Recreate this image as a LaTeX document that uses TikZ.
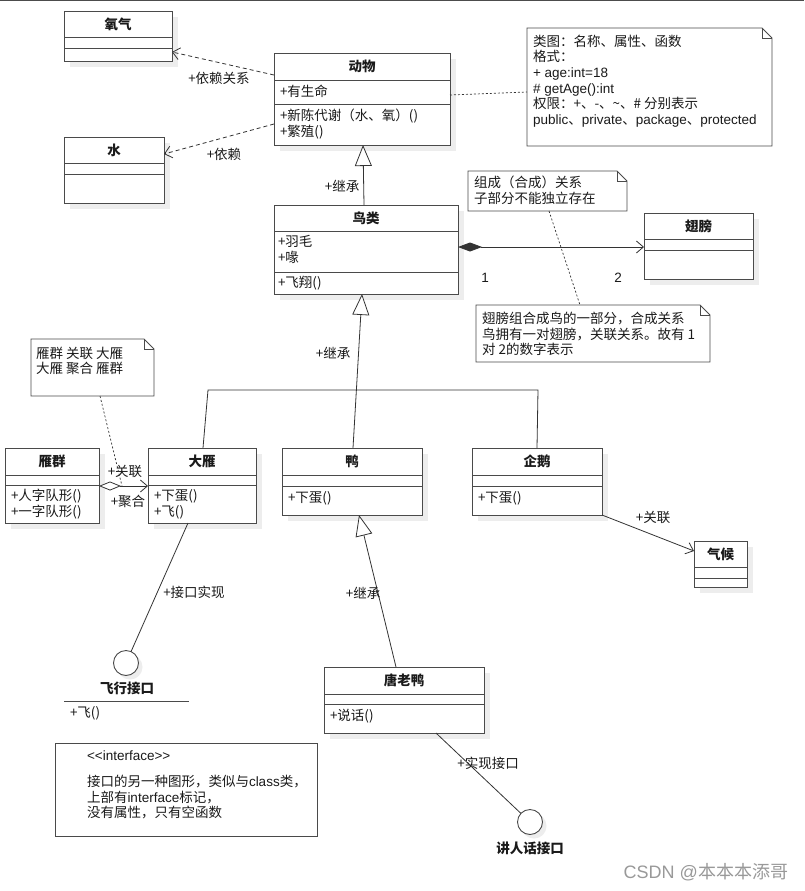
\documentclass[tikz,border=0pt]{standalone}
\usepackage{fontspec}
\setmainfont{Liberation Sans}
\newfontfamily\cjk{Noto Sans CJK SC}
\newfontfamily\latf{Liberation Sans}
\usetikzlibrary{arrows.meta,shadows}
\definecolor{boxc}{HTML}{4A4A4A}
\definecolor{linec}{HTML}{333333}
\definecolor{txtc}{HTML}{1A1A1A}
\definecolor{shadowc}{HTML}{EDEDED}
\tikzset{
  every node/.style={font=\cjk\fontsize{13.5}{16}\selectfont, inner sep=0pt, outer sep=0pt, text=txtc},
  cls/.style={draw=boxc, line width=0.9pt, fill=white, rectangle,
    drop shadow={shadow xshift=6pt, shadow yshift=-6pt, fill=shadowc, opacity=1}},
  boxline/.style={draw=boxc, line width=0.9pt},
  ctitle/.style={font=\cjk\bfseries\fontsize{13.5}{16}\selectfont},
  member/.style={anchor=west, align=left},
  notetxt/.style={anchor=west, align=left, font=\cjk\fontsize{13.5}{15.6}\selectfont},
  notec/.style={draw=boxc, line width=0.9pt},
  conn/.style={draw=linec, line width=0.8pt},
  dep/.style={conn, dash pattern=on 4pt off 3pt, -{Straight Barb[length=7pt,width=12pt]}},
  inh/.style={conn, -{Triangle[open,length=21pt,width=17pt,fill=white]}},
  comp/.style={conn, {Diamond[length=24pt,width=9pt]}-{Straight Barb[length=7pt,width=12pt]}},
  agg/.style={conn, {Diamond[open,length=22pt,width=9pt,fill=white]}-{Straight Barb[length=7pt,width=12pt]}},
  assoc/.style={conn, -{Straight Barb[length=7pt,width=12pt]}},
  notelink/.style={conn, line width=0.7pt, dash pattern=on 2pt off 2pt},
  iface/.style={circle, draw=boxc, line width=0.9pt, fill=white, minimum size=25pt,
    drop shadow={shadow xshift=4pt, shadow yshift=-4pt, fill=shadowc, opacity=1}},
}
\newcommand\umlclass[8]{%
  \node[cls, minimum width={(#4-#2)*1pt}, minimum height={(#5-#3)*1pt}] (#1) at ({(#2+#4)/2},{(#3+#5)/2}) {};
  \draw[boxline] (#1.west |- 0,#6) -- (#1.east |- 0,#6);
  \draw[boxline] (#1.west |- 0,#7) -- (#1.east |- 0,#7);
  \node[ctitle] (#1-t) at ({(#2+#4)/2},{(#3+#6)/2}) {#8};
}
\newcommand\umlnote[5]{%
  \node[minimum width={(#4-#2)*1pt}, minimum height={(#5-#3)*1pt}] (#1) at ({(#2+#4)/2},{(#3+#5)/2}) {};
  \draw[notec, fill=white] (#1.north west) -- ([xshift=-10pt]#1.north east) -- ([yshift=-10pt]#1.north east) -- (#1.south east) -- (#1.south west) -- cycle;
  \draw[notec] ([xshift=-10pt]#1.north east) -- ([xshift=-10pt,yshift=-10pt]#1.north east) -- ([yshift=-10pt]#1.north east);
}
\begin{document}
\begin{tikzpicture}[x=1pt,y=-1pt]
\useasboundingbox (0,0) rectangle (804,891);
\fill[white] (0,0) rectangle (804,891);
\draw[black!70, line width=1.5pt] (0,0.75) -- (804,0.75);

% classes
\umlclass{oxygen}{64}{11}{172}{61}{37}{48}{氧气}
\umlclass{water}{64}{137}{164}{203}{163}{174}{水}
\umlclass{animal}{274}{53}{450}{145}{80}{104}{动物}
\node[member] (animal-a) at (280,91) {+有生命};
\node[member] (animal-m) at (280,124) {+新陈代谢（水、氧）()\\+繁殖()};
\umlclass{bird}{274}{205}{458}{294}{231}{272}{鸟类}
\node[member] (bird-a) at (278,249) {+羽毛\\+喙};
\node[member] (bird-m) at (278,283) {+飞翔()};
\umlclass{wing}{644}{213}{753}{279}{239}{250}{翅膀}
\umlclass{flock}{5}{448}{99}{523}{475}{485}{雁群}
\node[member] (flock-m) at (11,504) {+人字队形()\\+一字队形()};
\umlclass{goose}{148}{448}{256}{523}{475}{485}{大雁}
\node[member] (goose-m) at (154,504) {+下蛋()\\+飞()};
\umlclass{duck}{282}{448}{422}{515}{475}{486}{鸭}
\node[member] (duck-m) at (288,498) {+下蛋()};
\umlclass{penguin}{472}{448}{602}{515}{475}{486}{企鹅}
\node[member] (penguin-m) at (478,498) {+下蛋()};
\umlclass{climate}{694}{541}{747}{587}{567}{578}{气候}
\umlclass{donald}{324}{667}{484}{733}{694}{704}{唐老鸭}
\node[member] (donald-m) at (330,716) {+说话()};

% interfaces
\node[iface] (flyif) at (126,663) {};
\node[ctitle] (flyif-t) at (127,688) {飞行接口};
\draw[boxline] (64,701) -- (189,701);
\node[member] (flyif-m) at (70,713) {+飞()};
\node[iface] (speakif) at (530,822) {};
\node[ctitle] (speakif-t) at (530,848) {讲人话接口};

% notes
\umlnote{note1}{527}{28}{772}{146}
\node[notetxt] (note1-t) at (533,81) {类图：名称、属性、函数\\格式：\\{\latf + age:int=18}\\{\latf \# getAge():int}\\权限：+、-、\textasciitilde、\# 分别表示\\{\latf public}、{\latf private}、{\latf package}、{\latf protected}};
\umlnote{note2}{468}{171}{627}{211}
\node[notetxt] (note2-t) at (474,190.5) {组成（合成）关系\\子部分不能独立存在};
\umlnote{note3}{476}{305}{710}{362}
\node[notetxt] (note3-t) at (482,334) {翅膀组合成鸟的一部分，合成关系\\鸟拥有一对翅膀，关联关系。故有 1\\对 2的数字表示};
\umlnote{note4}{31}{339}{154}{396}
\node[notetxt] (note4-t) at (36,361) {雁群 关联 大雁\\大雁 聚合 雁群};

% interface description box
\node[draw=boxc, line width=0.9pt, minimum width=262pt, minimum height=93pt] (ifbox) at (186,789.5) {};
\node[member, font=\latf\fontsize{13.5}{16}\selectfont] (ifbox-s) at (87,756) {<<interface>>};
\node[notetxt, font=\cjk\fontsize{13.5}{15.5}\selectfont] (ifbox-t) at (87,797.5) {接口的另一种图形，类似与{\latf class}类，\\上部有{\latf interface}标记，\\没有属性，只有空函数};

% connectors
\draw[dep] (animal.west |- 0,75) -- (oxygen.east |- 0,52);
\node (l-dep1) at (219,78) {+依赖关系};
\draw[dep] (animal.west |- 0,124) -- (water.east |- 0,154);
\node (l-dep2) at (224,154) {+依赖};
\draw[notelink] (animal.east |- 0,95) -- (note1.west |- 0,92);

\draw[inh] (bird.north -| 364,0) -- (animal.south -| 363,0);
\node (l-inh1) at (342,186) {+继承};

\draw[conn] (goose.north -| 203,0) -- (208,390) -- (538,390) -- (penguin.north -| 537,0);
\draw[inh] (duck.north -| 353,0) -- (bird.south -| 362,0);
\node (l-inh2) at (333,353) {+继承};

\draw[comp] (bird.east |- 0,247) -- (wing.west |- 0,247);
\node[font=\latf\fontsize{13.5}{16}\selectfont] (l-one) at (485,278) {1};
\node[font=\latf\fontsize{13.5}{16}\selectfont] (l-two) at (618,278) {2};
\draw[notelink] (note2.south -| 549,0) -- (note3.north -| 580,0);

\draw[agg] (flock.east |- 0,486) -- (goose.west |- 0,486);
\node (l-assoc1) at (125,471) {+关联};
\node (l-agg) at (128,501) {+聚合};
\coordinate (aggmid) at (122,486);
\draw[notelink] (note4.south -| 100,0) -- (aggmid);

\draw[assoc] (penguin.south east) -- (climate.west |- 0,551);
\node (l-assoc2) at (653,517) {+关联};

\draw[inh] (donald.north -| 396,0) -- (duck.south -| 359,0);
\node (l-inh3) at (363,593) {+继承};

\draw[conn] (goose.south -| 188,0) -- (flyif);
\node (l-real1) at (194,592) {+接口实现};
\draw[conn] (donald.south -| 436,0) -- (speakif);
\node (l-real2) at (488,763) {+实现接口};

% watermark
\node[anchor=east, text=black!40, font=\cjk\fontsize{18}{20}\selectfont] (wm) at (788,872) {{\latf CSDN @}本本本添哥};
\end{tikzpicture}
\end{document}
